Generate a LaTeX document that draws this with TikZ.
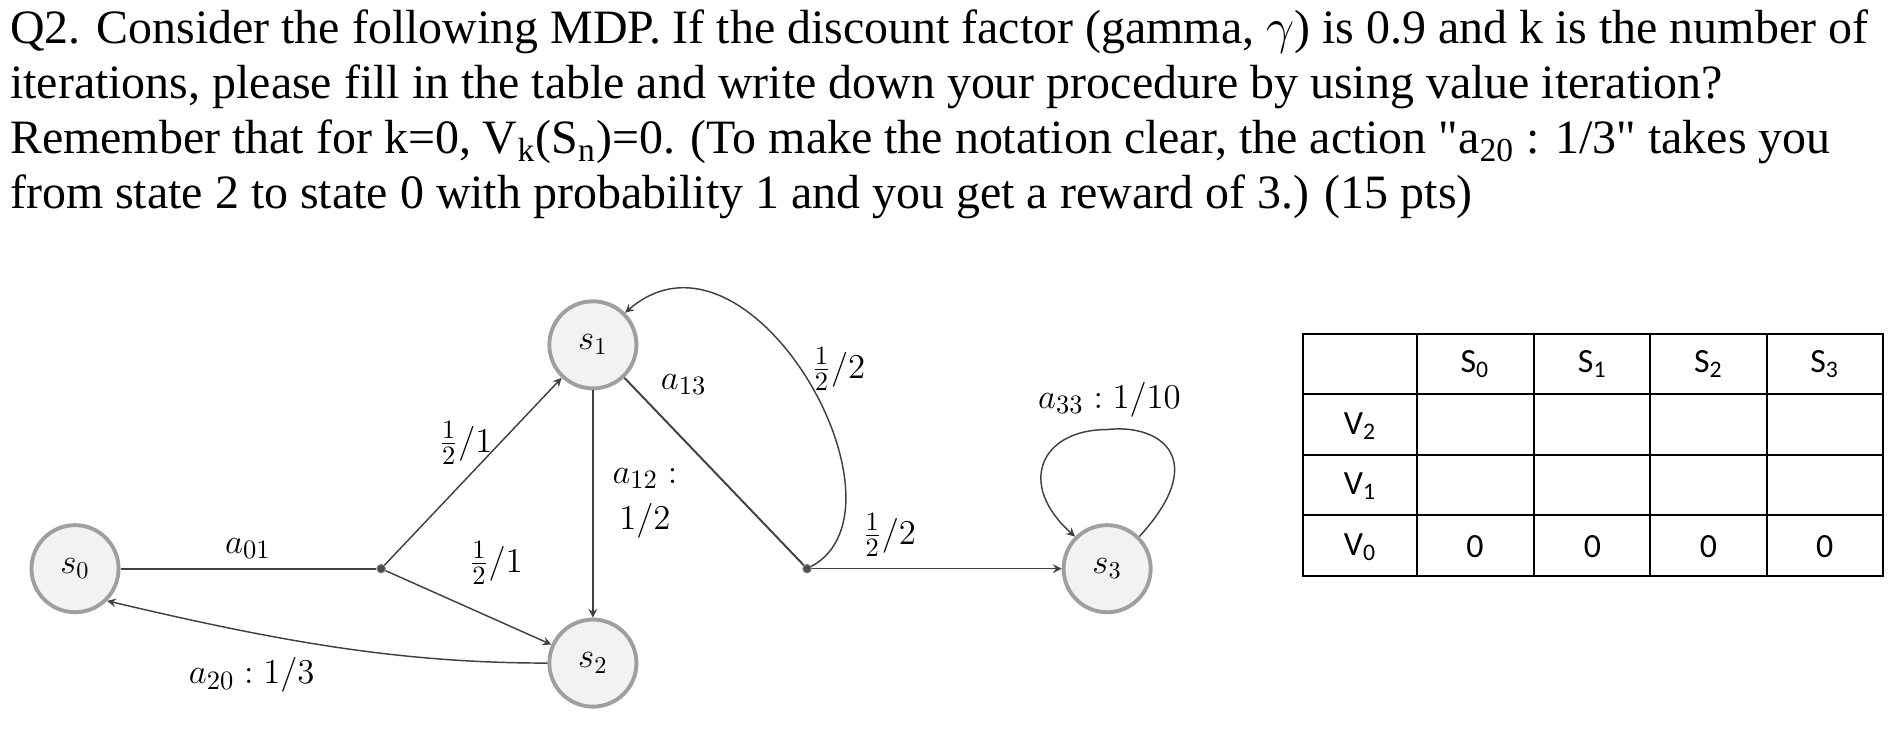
\documentclass[tikz,border=0pt]{standalone}
\usepackage{fontspec}
\setmainfont{Liberation Serif}
\newfontfamily\calib{Carlito}
\begin{document}
\begin{tikzpicture}[x=0.5pt,y=-0.5pt,
  st/.style={circle,draw=gray!75,line width=1.6pt,fill=gray!10,minimum size=36pt,inner sep=0pt,font=\fontsize{14}{16}\selectfont},
  dotn/.style={circle,fill=black!70,draw=black!50,inner sep=0pt,minimum size=3.5pt},
  lbl/.style={font=\fontsize{15}{17}\selectfont},
  ar/.style={->,>=stealth,black!75,line width=0.6pt},
  ln/.style={black!75,line width=0.8pt},
  ttl/.style={anchor=base west,inner sep=0pt,font=\fontsize{19.8}{22}\selectfont},
  cel/.style={font=\calib\fontsize{14}{16}\selectfont}]
\useasboundingbox (0,0) rectangle (1562,615);
\node[ttl] (t1) at (8,36) {Q2. Consider the following MDP. If the discount factor (gamma, $\gamma$) is 0.9 and k is the number of};
\node[ttl] (t2) at (8,81) {iterations, please fill in the table and write down your procedure by using value iteration?};
\node[ttl] (t3) at (8,127) {Remember that for k=0, V\textsubscript{k}(S\textsubscript{n})=0. (To make the notation clear, the action \textquotedbl a\textsubscript{20} : 1/3\textquotedbl\ takes you};
\node[ttl] (t4) at (8,172) {from state 2 to state 0 with probability 1 and you get a reward of 3.) (15 pts)};
\node[st] (s0) at (62,470) {$s_0$};
\node[st] (s1) at (490,285) {$s_1$};
\node[st] (s2) at (490,548) {$s_2$};
\node[st] (s3) at (915,470) {$s_3$};
\node[dotn] (d1) at (315,470) {};
\node[dotn] (d2) at (667,470) {};
\draw[ln] (s0) -- (d1);
\draw[ar] (d1) -- (s1);
\draw[ar] (d1) -- (s2);
\draw[ar] (s1) -- (s2);
\draw[ln] (s1) -- (d2);
\draw[ar] (d2) -- (s3);
\draw[ar] (s2.west) .. controls (330,548) and (230,530) .. (s0.south east);
\draw[ar] (d2) .. controls (760,420) and (620,170) .. (s1.north east);
\draw[ar] (s3.north east) .. controls (1000,380) and (960,350) .. (915,355) .. controls (860,355) and (840,400) .. (s3.north west);
\node[lbl] (l1) at (205,453) {$a_{01}$};
\node[lbl] (l2) at (385,366) {$\frac12/1$};
\node[lbl] (l3) at (410,465) {$\frac12/1$};
\node[lbl,align=center] (l4) at (533,416) {$a_{12}:$\\[2pt]$1/2$};
\node[lbl] (l5) at (565,318) {$a_{13}$};
\node[lbl] (l6) at (693,305) {$\frac12/2$};
\node[lbl] (l7) at (735,442) {$\frac12/2$};
\node[lbl] (l8) at (917,330) {$a_{33}:1/10$};
\node[lbl] (l9) at (208,558) {$a_{20}:1/3$};
\draw[line width=0.8pt] (1077,276) rectangle (1556,476);
\foreach \x in {1171,1268,1364,1460} \draw[line width=0.8pt] (\x,276) -- (\x,476);
\foreach \y in {326,376,426} \draw[line width=0.8pt] (1077,\y) -- (1556,\y);
\node[cel] (h0) at (1219,301) {S\textsubscript{0}};
\node[cel] (h1) at (1316,301) {S\textsubscript{1}};
\node[cel] (h2) at (1412,301) {S\textsubscript{2}};
\node[cel] (h3) at (1508,301) {S\textsubscript{3}};
\node[cel] (v2) at (1124,352) {V\textsubscript{2}};
\node[cel] (v1) at (1124,402) {V\textsubscript{1}};
\node[cel] (v0) at (1124,452) {V\textsubscript{0}};
\node[cel] (z0) at (1219,452) {0};
\node[cel] (z1) at (1316,452) {0};
\node[cel] (z2) at (1412,452) {0};
\node[cel] (z3) at (1508,452) {0};
\end{tikzpicture}
\end{document}
